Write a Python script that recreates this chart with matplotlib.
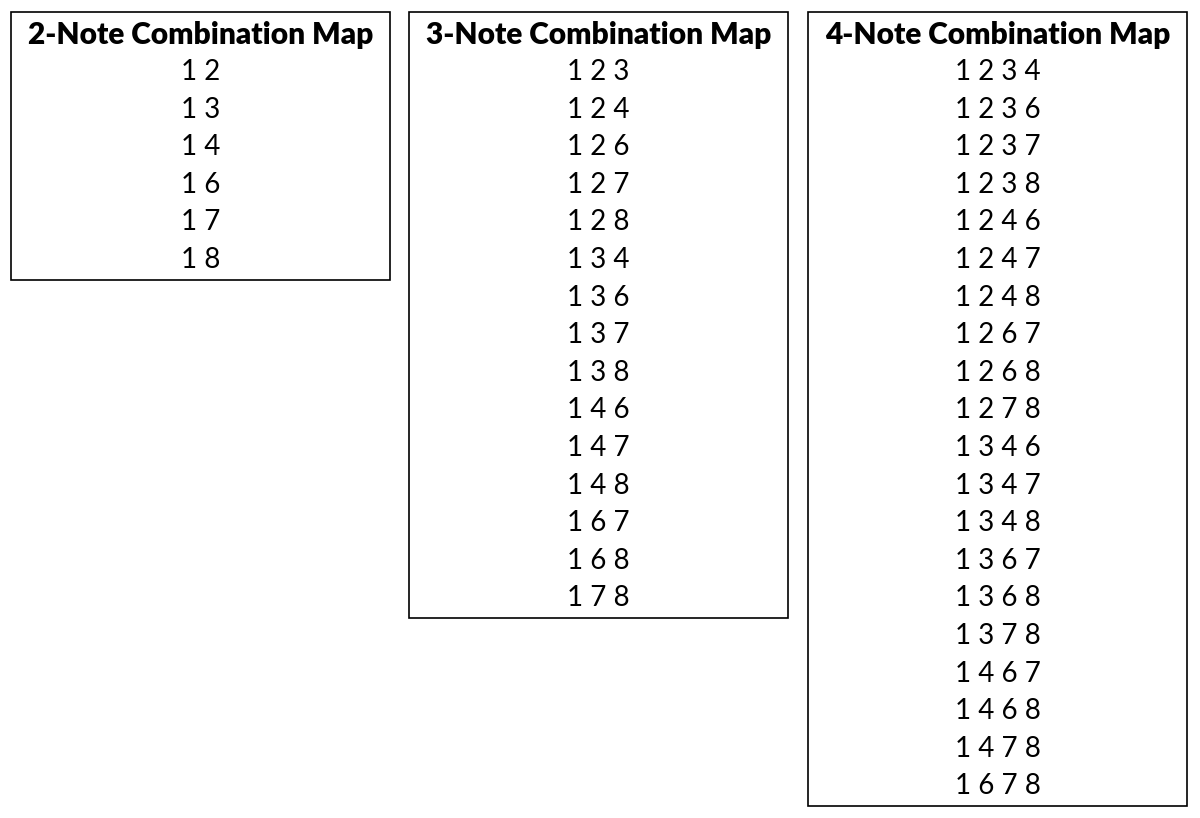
import matplotlib.pyplot as plt
from matplotlib.patches import Rectangle

titles = ["2-Note Combination Map", "3-Note Combination Map", "4-Note Combination Map"]
combos_2 = ["12", "13", "14", "16", "17", "18"]
combos_3 = ["123", "124", "126", "127", "128", "134", "136", "137", "138",
            "146", "147", "148", "167", "168", "178"]
combos_4 = ["1234", "1236", "1237", "1238", "1246", "1247", "1248", "1267",
            "1268", "1278", "1346", "1347", "1348", "1367", "1368", "1378",
            "1467", "1468", "1478", "1678"]
tables = [combos_2, combos_3, combos_4]

fig = plt.figure(figsize=(12, 8.18), dpi=100)
ax = fig.add_axes([0, 0, 1, 1])
ax.set_xlim(0, 1200)
ax.set_ylim(818, 0)
ax.set_axis_off()

box_left = [11, 409, 808]
box_w = 379
top = 12
row0 = 72
row_h = 37.6

for left, title, rows in zip(box_left, titles, tables):
    bottom = row0 + row_h * (len(rows) - 1) + 20
    ax.add_patch(Rectangle((left, top), box_w, bottom - top, fill=False,
                           edgecolor="black", linewidth=1.2))
    cx = left + box_w / 2
    ax.text(cx, 35, title, ha="center", va="center", fontsize=21.5,
            fontweight="heavy", family="Lato")
    for i, r in enumerate(rows):
        ax.text(cx, row0 + i * row_h, " ".join(r), ha="center", va="center",
                fontsize=20, family="Lato")

fig.savefig("out.png", dpi=100, facecolor="white")
